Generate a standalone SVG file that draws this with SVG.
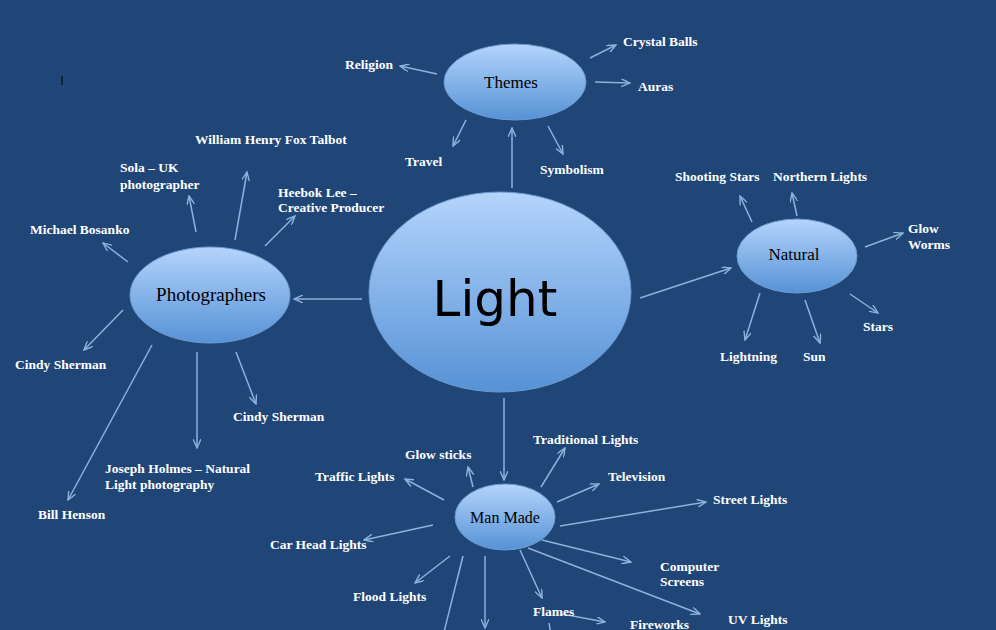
<svg xmlns="http://www.w3.org/2000/svg" width="996" height="630" viewBox="0 0 996 630">
<style>
.l{font-family:"Liberation Serif",serif;font-weight:bold;font-size:13.5px;fill:#fff}
.n{font-family:"Liberation Serif",serif;fill:#000;text-anchor:middle}
.c line{stroke:#8fb1dc;stroke-width:1.5;marker-end:url(#a)}
.e{fill:url(#g);stroke:#6d9ad0;stroke-width:1}
</style>
<defs>
<linearGradient id="g" x1="0" y1="0" x2="0" y2="1"><stop offset="0" stop-color="#b4d4fc"/><stop offset="1" stop-color="#5692d6"/></linearGradient>
<marker id="a" markerWidth="10" markerHeight="8" refX="9" refY="4" orient="auto" markerUnits="userSpaceOnUse"><path d="M0,0L9,4L0,8" fill="none" stroke="#8fb1dc" stroke-width="1.4"/></marker>
</defs>
<rect width="996" height="630" fill="#1f4677"/>
<line x1="62" y1="76" x2="62" y2="85" stroke="#000" stroke-width="1"/>
<g class="c">
<line x1="512" y1="188" x2="512" y2="128"/>
<line x1="362" y1="299" x2="294" y2="299"/>
<line x1="640" y1="298" x2="731" y2="268"/>
<line x1="504" y1="398" x2="504" y2="480"/>
<line x1="437" y1="74" x2="400" y2="66"/>
<line x1="590" y1="58" x2="616" y2="45"/>
<line x1="595" y1="82" x2="630" y2="83"/>
<line x1="466" y1="120" x2="453" y2="146"/>
<line x1="548" y1="126" x2="563" y2="154"/>
<line x1="196" y1="232" x2="189" y2="196"/>
<line x1="235" y1="240" x2="247" y2="172"/>
<line x1="265" y1="246" x2="295" y2="216"/>
<line x1="128" y1="262" x2="103" y2="243"/>
<line x1="123" y1="310" x2="84" y2="350"/>
<line x1="152" y1="345" x2="68" y2="500"/>
<line x1="197" y1="352" x2="197" y2="448"/>
<line x1="236" y1="352" x2="256" y2="404"/>
<line x1="752" y1="222" x2="740" y2="196"/>
<line x1="797" y1="216" x2="792" y2="193"/>
<line x1="865" y1="247" x2="903" y2="233"/>
<line x1="850" y1="294" x2="878" y2="313"/>
<line x1="760" y1="293" x2="745" y2="340"/>
<line x1="805" y1="300" x2="820" y2="343"/>
<line x1="444" y1="500" x2="405" y2="479"/>
<line x1="473" y1="487" x2="468" y2="467"/>
<line x1="541" y1="487" x2="565" y2="448"/>
<line x1="557" y1="502" x2="599" y2="484"/>
<line x1="560" y1="526" x2="706" y2="502"/>
<line x1="542" y1="540" x2="631" y2="562"/>
<line x1="528" y1="548" x2="700" y2="614"/>
<line x1="520" y1="550" x2="542" y2="598"/>
<line x1="433" y1="525" x2="364" y2="540"/>
<line x1="450" y1="556" x2="415" y2="583"/>
<line x1="463" y1="556" x2="442" y2="640"/>
<line x1="485" y1="556" x2="485" y2="628"/>
<line x1="562" y1="614" x2="605" y2="622"/>
<line x1="549" y1="623" x2="552" y2="640"/>
</g>
<g id="light"><ellipse class="e" cx="500" cy="292" rx="131" ry="100"/><text class="n" x="495" y="316" style="font-family:'DejaVu Sans',sans-serif" font-size="50">Light</text></g>
<g id="themes"><ellipse class="e" cx="515" cy="82" rx="71" ry="38"/><text class="n" x="511" y="88" font-size="17">Themes</text></g>
<g id="photographers"><ellipse class="e" cx="210" cy="295" rx="80" ry="48"/><text class="n" x="211" y="301" font-size="19">Photographers</text></g>
<g id="natural"><ellipse class="e" cx="797" cy="256" rx="60" ry="37"/><text class="n" x="794" y="260" font-size="17">Natural</text></g>
<g id="manmade"><ellipse class="e" cx="505" cy="517" rx="50" ry="33"/><text class="n" x="505" y="523" font-size="16">Man Made</text></g>
<g id="labels">
<text class="l" x="345" y="69">Religion</text>
<text class="l" x="623" y="46">Crystal Balls</text>
<text class="l" x="638" y="91">Auras</text>
<text class="l" x="405" y="166">Travel</text>
<text class="l" x="540" y="174">Symbolism</text>
<text class="l" x="195" y="144">William Henry Fox Talbot</text>
<text class="l" x="120" y="172">Sola – UK</text>
<text class="l" x="120" y="189">photographer</text>
<text class="l" x="278" y="197">Heebok Lee –</text>
<text class="l" x="278" y="212">Creative Producer</text>
<text class="l" x="30" y="234">Michael Bosanko</text>
<text class="l" x="15" y="369">Cindy Sherman</text>
<text class="l" x="233" y="421">Cindy Sherman</text>
<text class="l" x="105" y="473">Joseph Holmes – Natural</text>
<text class="l" x="105" y="489">Light photography</text>
<text class="l" x="38" y="519">Bill Henson</text>
<text class="l" x="675" y="181">Shooting Stars</text>
<text class="l" x="773" y="181">Northern Lights</text>
<text class="l" x="908" y="233">Glow</text>
<text class="l" x="908" y="249">Worms</text>
<text class="l" x="863" y="331">Stars</text>
<text class="l" x="720" y="361">Lightning</text>
<text class="l" x="803" y="361">Sun</text>
<text class="l" x="405" y="459">Glow sticks</text>
<text class="l" x="533" y="444">Traditional Lights</text>
<text class="l" x="315" y="481">Traffic Lights</text>
<text class="l" x="608" y="481">Television</text>
<text class="l" x="713" y="504">Street Lights</text>
<text class="l" x="270" y="549">Car Head Lights</text>
<text class="l" x="660" y="571">Computer</text>
<text class="l" x="660" y="586">Screens</text>
<text class="l" x="353" y="601">Flood Lights</text>
<text class="l" x="533" y="616">Flames</text>
<text class="l" x="630" y="629">Fireworks</text>
<text class="l" x="728" y="624">UV Lights</text>
</g>
</svg>
